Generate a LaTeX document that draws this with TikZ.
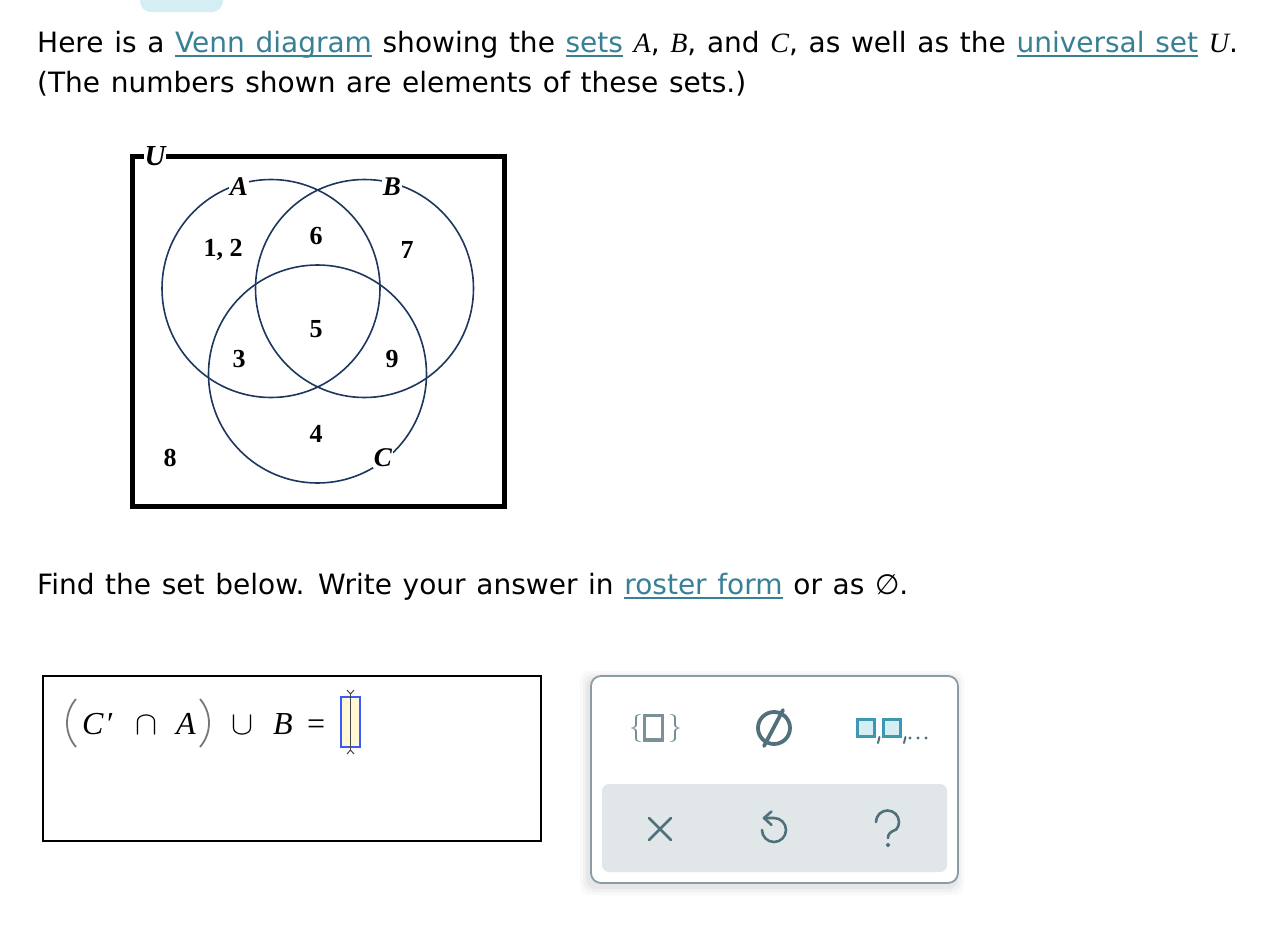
\documentclass[tikz,border=0pt]{standalone}
\usepackage{graphicx}
\usepackage{fontspec}
\setmainfont[WordSpace=1.2]{DejaVu Sans}
\newfontfamily\vennserif{Liberation Serif}

\definecolor{linkc}{RGB}{56,128,150}
\definecolor{vennc}{RGB}{30,55,95}
\definecolor{tabc}{RGB}{213,238,244}
\definecolor{parenc}{RGB}{120,120,120}
\definecolor{inputc}{RGB}{255,249,214}
\definecolor{inputb}{RGB}{60,90,250}
\definecolor{cursorc}{RGB}{70,70,70}
\definecolor{palc}{RGB}{138,156,164}
\definecolor{bandc}{RGB}{225,230,233}
\definecolor{iconc}{RGB}{80,112,124}
\definecolor{brc}{RGB}{110,135,145}
\definecolor{sqgray}{RGB}{122,145,154}
\definecolor{sqfill}{RGB}{213,237,243}
\definecolor{sqline}{RGB}{61,152,178}

\newcommand\lnk[1]{{\color{linkc}\setbox0\hbox{#1}\rlap{\rule[-4.6pt]{\wd0}{2pt}}\box0}}
\newcommand\setv[1]{{\vennserif\itshape #1}}

\begin{document}
\begin{tikzpicture}[x=1pt,y=-1pt,
    setcircle/.style ={draw=vennc, line width=1.6pt},
    elem/.style ={font=\vennserif\bfseries\fontsize{26}{26}\selectfont, inner sep=0pt},
    setlabel/.style ={font=\vennserif\bfseries\itshape\fontsize{27}{27}\selectfont, fill=white, inner sep=1pt},
    prose/.style ={anchor=base west, inner sep=0pt, font=\fontsize{28}{32}\selectfont},
    exprit/.style ={anchor=base west, inner sep=0pt, font=\vennserif\itshape\fontsize{32}{32}\selectfont},
    exprop/.style ={anchor=base west, inner sep=0pt},
    iconline/.style ={draw=iconc, line width=2.6pt, line cap=round, line join=round}]

   \useasboundingbox[fill=white] (0,0) rectangle (1270,932);
   \begin{scope}
     \clip (0,0) rectangle (1270,932);
     \fill[tabc, rounded corners=11] (140,-20) rectangle (223,12);
   \end{scope}

   \node[prose] (line1) at (37,52) {Here is a \lnk{Venn diagram} showing the \lnk{sets} \setv{A}, \setv{B}, and \setv{C}, as well as the \lnk{universal set} \setv{U}.};
   \node[prose] (line2) at (37,92) {(The numbers shown are elements of these sets.)};

   % venn diagram
   \coordinate (cA) at (271,288.5);
   \coordinate (cB) at (364.5,288.5);
   \coordinate (cC) at (317.5,374);
   \draw[line width=5pt] (132.5,156) rectangle (504.5,506);
   \draw[setcircle] (cA) circle (109pt);
   \draw[setcircle] (cB) circle (109pt);
   \draw[setcircle] (cC) circle (109pt);

   \node[setlabel, font=\vennserif\bfseries\itshape\fontsize{29}{29}\selectfont] (labU) at (155,156) {U};
   \node[setlabel] (labA) at (239,187) {A};
   \node[setlabel] (labB) at (392,187) {B};
   \node[setlabel] (labC) at (383,458) {C};

   \node[elem] (e12) at (223,250) {1, 2};
   \node[elem] (e6) at (316,236) {6};
   \node[elem] (e7) at (407,250) {7};
   \node[elem] (e5) at (316,329) {5};
   \node[elem] (e3) at (239,359) {3};
   \node[elem] (e9) at (392,359) {9};
   \node[elem] (e4) at (316,434) {4};
   \node[elem] (e8) at (170,458) {8};

   \node[prose] (ask) at (37,594) {Find the set below. Write your answer in \lnk{roster form} or as ∅.};

   % answer box
   \draw[line width=2pt] (43,676) rectangle (541,841);
   \draw[parenc, line width=1.8pt] (76,699) .. controls (64,713) and (64,733) .. (76,747);
   \draw[parenc, line width=1.8pt] (200,699) .. controls (212,713) and (212,733) .. (200,747);
   \node[exprit] (eC) at (82,734) {C};
   \node[exprit] (ePrime) at (105,734) {\symbol{"2032}};
   \node[exprop] (eCap) at (135,734) {\scalebox{3.3}{$\cap$}};
   \node[exprit] (eA) at (176,734) {A};
   \node[exprop] (eCup) at (231,734) {\scalebox{3.3}{$\cup$}};
   \node[exprit] (eB) at (273,734) {B};
   \node[exprit, font=\vennserif\fontsize{32}{32}\selectfont] (eEq) at (307,734) {=};
   \draw[fill=inputc, draw=inputb, line width=1.8pt] (341,697) rectangle (360,747);
   \draw[cursorc, line width=1.3pt] (350.5,693) -- (350.5,751);
   \draw[cursorc, line width=1pt] (347,690) -- (350.5,694) -- (354,690);
   \draw[cursorc, line width=1pt] (347,754) -- (350.5,750) -- (354,754);

   % palette
   \foreach \s/\o in {9/0.025, 6/0.03, 3/0.04}
     \fill[black, opacity=\o, rounded corners=10] (591-\s-2,676-\s+4) rectangle (958+\s-3,883+\s+3);
   \draw[draw=palc, fill=white, line width=1.8pt, rounded corners=10] (591,676) rectangle (958,883);
   \fill[bandc, rounded corners=7] (602,784) rectangle (947,872);

   \node[text=brc, font=\sffamily\fontsize{28}{28}\selectfont] (lbr) at (636,728) {\{};
   \node[text=brc, font=\sffamily\fontsize{28}{28}\selectfont] (rbr) at (675,728) {\}};
   \draw[sqgray, line width=3.5pt] (644.5,715.5) rectangle (662.5,740);

   \coordinate (cE) at (774,728);
   \draw[iconline, line width=3.8pt] (cE) circle (16pt);
   \draw[iconline, line width=3.8pt] (783,710) -- (764,746);

   \draw[fill=sqfill, draw=sqline, line width=3pt] (857.5,719.5) rectangle (874.5,736.5);
   \draw[fill=sqfill, draw=sqline, line width=3pt] (883.5,719.5) rectangle (900.5,736.5);
   \draw[iconline, line width=2pt] (879.5,737) -- (878,743);
   \draw[iconline, line width=2pt] (905.5,737) -- (904,743);
   \foreach \d in {910,918,926}
     \fill[iconc] (\d,738) circle (1.6pt);

   \draw[iconline] (649,818) -- (671,840);
   \draw[iconline] (671,818) -- (649,840);

   \coordinate (cU) at (774,830);
   \draw[iconline] (764,818) -- (774,818) arc[start angle=90, end angle=-180, radius=12pt];
   \draw[iconline] (771.5,811.5) -- (764,818) -- (771.5,825);

   \draw[iconline] (876,822) arc[start angle=180, end angle=-40, radius=11.5pt] .. controls (890,832) and (888,834) .. (888,838);
   \fill[iconc] (888,845) circle (2pt);
 \end{tikzpicture}
\end{document}
